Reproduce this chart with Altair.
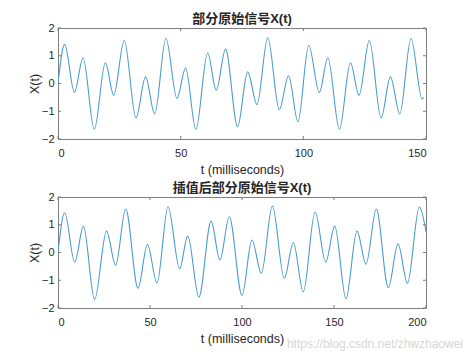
import altair as alt
import pandas as pd

# ---- data (extrema of the curves) ----
t_top = [0, 2.7, 6.7, 10.2, 14.8, 19.3, 22.7, 27.0, 31.8, 35.7, 39.4, 44.0, 48.5,
         52.0, 56.2, 61.0, 64.5, 68.3, 73.2, 77.3, 81.1, 85.5, 90.2, 94.0, 97.8,
         102.2, 106.5, 110.0, 114.7, 119.2, 122.7, 126.9, 131.7, 135.5, 139.3,
         143.9, 148.4, 149.0]
x_top = [0.0, 1.41, -0.32, 0.93, -1.65, 0.75, -0.42, 1.55, -1.24, 0.24, -1.10, 1.62,
         -0.54, 0.56, -1.65, 1.10, -0.24, 1.24, -1.56, 0.42, -0.76, 1.65, -0.94, 0.28,
         -1.38, 1.38, -0.32, 0.93, -1.65, 0.75, -0.42, 1.55, -1.24, 0.24, -1.10,
         1.62, -0.56, -0.50]

t_bot = [0, 3.6, 9.1, 13.8, 19.9, 26.4, 31.3, 36.8, 43.5, 48.6, 53.8, 59.8, 66.1,
         70.5, 76.6, 83.2, 88.0, 93.1, 100.0, 105.4, 110.5, 116.5, 123.0, 127.9,
         133.3, 139.7, 145.5, 150.4, 156.5, 162.5, 167.4, 173.0, 179.5, 184.8,
         189.9, 196.4, 200.0]
x_bot = [0.0, 1.43, -0.35, 0.94, -1.69, 0.77, -0.46, 1.57, -1.29, 0.29, -1.10, 1.65,
         -0.58, 0.59, -1.61, 1.13, -0.27, 1.29, -1.55, 0.45, -0.75, 1.67, -0.93, 0.36,
         -1.42, 1.46, -0.34, 0.95, -1.66, 0.77, -0.42, 1.57, -1.27, 0.31, -1.11,
         1.64, 0.75]

xticks_top = [0, 50, 100, 150]
xticks_bot = [0, 50, 100, 150, 200]
yticks = [-2, -1, 0, 1, 2]

title_top = "部分原始信号X(t)"
title_bot = "插值后部分原始信号X(t)"
x_title = "t (milliseconds)"
y_title = "X(t)"
watermark = "https://blog.csdn.net/zhwzhaowei"

# ---- style ----
W, H = 368, 111
LINE = "#4a9ccc"
FRAME = "#7f7f7f"
TXT = "#262626"
FONT = "Liberation Sans"
CJK = "Liberation Sans, 'Noto Sans CJK SC'"
TL = 3


def panel(t, x, xmax, xticks, title, mark_text=False):
    df = pd.DataFrame({"t": t, "x": x})
    xs = alt.Scale(domain=[0, xmax], nice=False, zero=False)
    ys = alt.Scale(domain=[-2, 2], nice=False, zero=False)
    xax = alt.Axis(values=xticks, title=x_title, format="d", labelPadding=8,
                   titleY=30, titleBaseline="middle")
    yax = alt.Axis(values=yticks, title=y_title, format="d", labelPadding=4,
                   titleX=-24, titleBaseline="middle")
    line = alt.Chart(df).mark_line(
        interpolate="monotone", color=LINE, strokeWidth=1.1, clip=True
    ).encode(
        x=alt.X("t:Q", scale=xs, axis=xax),
        y=alt.Y("x:Q", scale=ys, axis=yax),
    )
    xt = pd.DataFrame({"t": xticks})
    yt = pd.DataFrame({"x": yticks})
    bt = alt.Chart(xt).mark_rule(color=FRAME, strokeWidth=1).encode(
        x=alt.X("t:Q", scale=xs, axis=xax), y=alt.value(H), y2=alt.value(H - TL))
    tt = alt.Chart(xt).mark_rule(color=FRAME, strokeWidth=1).encode(
        x=alt.X("t:Q", scale=xs, axis=xax), y=alt.value(0), y2=alt.value(TL))
    lt = alt.Chart(yt).mark_rule(color=FRAME, strokeWidth=1).encode(
        y=alt.Y("x:Q", scale=ys, axis=yax), x=alt.value(0), x2=alt.value(TL))
    rt = alt.Chart(yt).mark_rule(color=FRAME, strokeWidth=1).encode(
        y=alt.Y("x:Q", scale=ys, axis=yax), x=alt.value(W), x2=alt.value(W - TL))
    layers = [line, bt, tt, lt, rt]
    if mark_text:
        wm = alt.Chart(pd.DataFrame({"s": [watermark]})).mark_text(
            align="right", baseline="middle", font=FONT, fontSize=12,
            color="#d6d6d6"
        ).encode(text="s:N", x=alt.value(W + 37), y=alt.value(H + 36))
        layers.append(wm)
    return alt.layer(*layers).properties(
        width=W, height=H,
        title=alt.TitleParams(title, font=CJK, fontSize=13, fontWeight="bold",
                              color=TXT, offset=-4),
    )


top = panel(t_top, x_top, 150, xticks_top, title_top)
bot = panel(t_bot, x_bot, 200, xticks_bot, title_bot, mark_text=True)

chart = alt.vconcat(top, bot, spacing=5).properties(
    padding={"left": 27, "top": 12, "right": 10, "bottom": 0},
    background="white",
).configure_view(
    stroke=FRAME, strokeWidth=1
).configure_axis(
    domain=False, ticks=False, grid=False,
    labelFont=FONT, labelFontSize=11, labelColor=TXT,
    titleFont=FONT, titleFontSize=12.5, titleFontWeight="normal", titleColor=TXT,
)

chart.save("out.html", embed_options={"renderer": "svg", "actions": False})
